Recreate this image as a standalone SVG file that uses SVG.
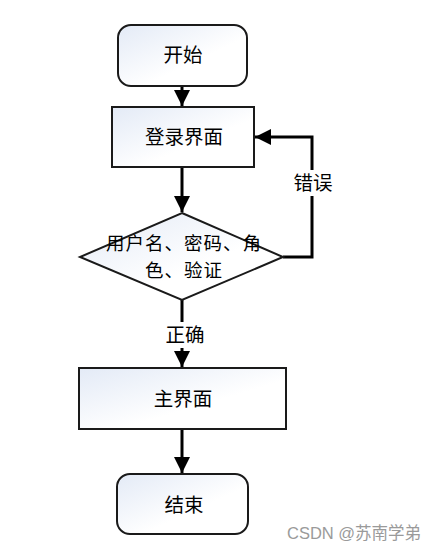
<svg xmlns="http://www.w3.org/2000/svg" width="437" height="552" viewBox="0 0 437 552">
<defs>
<linearGradient id="g" x1="0" y1="0" x2="1" y2="1">
<stop offset="0" stop-color="#e3eaf6"/>
<stop offset="0.6" stop-color="#ffffff"/>
</linearGradient>
<marker id="ah" markerWidth="16" markerHeight="18" refX="16" refY="8" orient="auto" markerUnits="userSpaceOnUse" viewBox="0 0 16 16">
<path d="M0,0 L16,8 L0,16 Z" fill="#000"/>
</marker>
</defs>
<style>
.n{fill:url(#g);stroke:#1a1a1a;stroke-width:2}
.t{font-family:"Noto Sans CJK SC","Microsoft YaHei",sans-serif;font-size:19.5px;fill:#000;text-anchor:middle}
.d{font-size:18.5px}
.c{fill:none;stroke:#000;stroke-width:3}
.w{font-family:"Liberation Sans","Noto Sans CJK SC",sans-serif;font-size:16.5px;fill:#9a9a9a}
</style>
<rect width="437" height="552" fill="#fff"/>
<g id="connectors">
<line class="c" x1="182" y1="86" x2="182" y2="106" marker-end="url(#ah)"/>
<line class="c" x1="182" y1="167" x2="182" y2="212" marker-end="url(#ah)"/>
<polyline class="c" points="283,257 312,257 312,137 255,137" marker-end="url(#ah)"/>
<line class="c" x1="182" y1="300" x2="182" y2="367" marker-end="url(#ah)"/>
<line class="c" x1="182" y1="429" x2="182" y2="473" marker-end="url(#ah)"/>
<rect x="291" y="170" width="44" height="26" fill="#fff"/>
<text class="t" x="313" y="190">错误</text>
<rect x="162" y="322" width="44" height="26" fill="#fff"/>
<text class="t" x="185" y="342">正确</text>
</g>
<g id="start">
<rect class="n" x="118" y="25" width="129" height="61" rx="13"/>
<text class="t" x="183" y="62">开始</text>
</g>
<g id="login">
<rect class="n" x="112" y="107" width="142" height="60"/>
<text class="t" x="184" y="144">登录界面</text>
</g>
<g id="check">
<polygon class="n" points="182,213 283,257 182,300 80,257"/>
<text class="t d" x="184" y="250"><tspan x="184" y="250" letter-spacing="1">用户名、密码、角</tspan><tspan x="184" y="277" letter-spacing="1">色、验证</tspan></text>
</g>
<g id="main">
<rect class="n" x="79" y="368" width="207" height="61"/>
<text class="t" x="183" y="406">主界面</text>
</g>
<g id="end">
<rect class="n" x="117" y="474" width="131" height="60" rx="13"/>
<text class="t" x="184" y="512">结束</text>
</g>
<text class="w" x="287" y="539">CSDN @苏南学弟</text>
</svg>
